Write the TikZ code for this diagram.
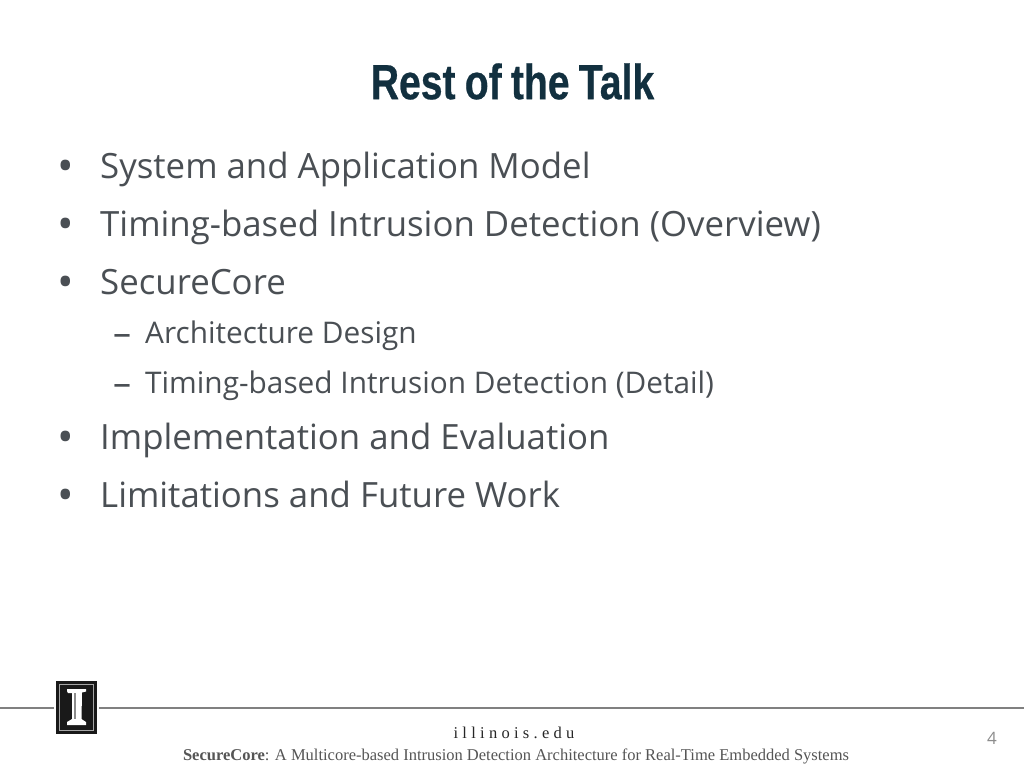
\documentclass[tikz,border=0pt]{standalone}
\usepackage{fontspec}
\setmainfont{Open Sans}
\newfontfamily\titlefont[FakeStretch=0.79,BoldFeatures={FakeBold=0.5},WordSpace=0.85]{Liberation Sans}
\newfontfamily\serif{Liberation Serif}
\newfontfamily\wide[LetterSpace=26]{Liberation Serif}
\definecolor{bodyc}{HTML}{4A4F54}
\definecolor{titlec}{HTML}{12303F}
\definecolor{rulec}{HTML}{808080}
\definecolor{footc}{HTML}{555555}
\tikzset{
 bul/.style={anchor=base west,text=bodyc,font=\fontsize{34.8}{38}\selectfont,inner sep=0pt},
 bulmark/.style={anchor=base west,text=bodyc,font=\fontsize{44}{46}\selectfont,inner sep=0pt},
 sub/.style={anchor=base west,text=bodyc,font=\fontsize{29.8}{34}\selectfont,inner sep=0pt},
 submark/.style={anchor=base west,text=bodyc,font=\fontsize{36}{38}\selectfont,inner sep=0pt},
}
\begin{document}
\begin{tikzpicture}[x=1pt,y=-1pt]
\useasboundingbox (0,0) rectangle (1024,768);
\fill[white] (0,0) rectangle (1024,768);
\node[inner sep=0pt,text=titlec,font=\titlefont\bfseries\fontsize{49.5}{52}\selectfont] (title) at (512.5,81.5) {Rest of the Talk};
\foreach \n/\y/\t in {a/178/System and Application Model,b/236/Timing-based Intrusion Detection (Overview),c/294/SecureCore,f/449/Implementation and Evaluation,g/507/Limitations and Future Work}{
 \node[bul] (t\n) at (100,\y) {\t};
 \node[bulmark] (d\n) at (57,\y+3.5) {•};
}
\foreach \n/\y/\t in {d/343/Architecture Design,e/393/Timing-based Intrusion Detection (Detail)}{
 \node[sub] (t\n) at (145,\y) {\t};
 \node[submark] (d\n) at (113,\y+2) {–};
}
\draw[rulec,line width=1.5pt] (0,708) -- (1024,708);
\fill[white] (54,680) rectangle (99,735);
\fill[black!90] (56,680.5) rectangle (97,734);
\draw[black!35,line width=1pt] (59.5,684) rectangle (93.5,730.5);
% column emblem
\fill[white] (67,689) -- (86,689) -- (86,691.5) -- (82,692.5) -- (81.5,719) -- (86,722) -- (86,725) -- (67,725) -- (67,722) -- (72,719) -- (72,693) -- (68,693) -- (67,691) -- cycle;
\fill[black!45] (73.5,693) rectangle (76,719);
\node[inner sep=0pt,text=black!85,font=\wide\fontsize{16.5}{18}\selectfont] (edu) at (514,733) {illinois.edu};
\node[inner sep=0pt,text=footc,font=\serif\fontsize{16.5}{18}\selectfont] (foot) at (516,756.5) {\textbf{SecureCore}: A Multicore-based Intrusion Detection Architecture for Real-Time Embedded Systems};
\node[inner sep=0pt,text=black!45,font=\fontsize{17}{18}\selectfont] (num) at (992,738) {4};
\end{tikzpicture}
\end{document}
